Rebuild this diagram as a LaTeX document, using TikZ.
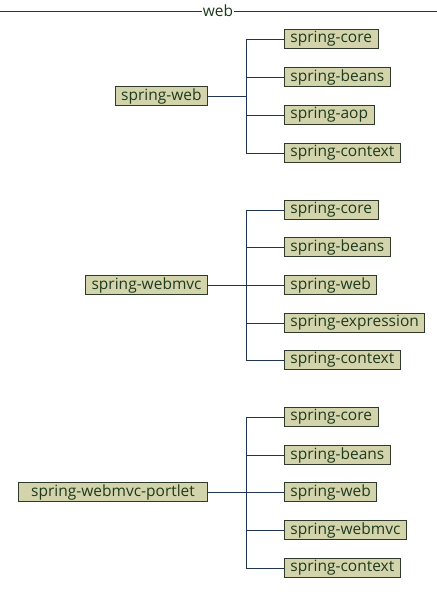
\documentclass[tikz,border=0pt]{standalone}
\usepackage{fontspec}
\setmainfont{Open Sans}
\definecolor{boxfill}{HTML}{D4D4AC}
\definecolor{boxtext}{HTML}{1E3A1E}
\definecolor{boxline}{HTML}{2E3A2A}
\definecolor{conn}{HTML}{1F3354}
\begin{document}
\begin{tikzpicture}[x=1pt,y=-1pt,
  mod/.style={draw=boxline,fill=boxfill,text=boxtext,line width=0.9pt,
    minimum height=19pt,inner ysep=0pt,inner xsep=6pt,font=\fontsize{15.5}{17}\selectfont},
  child/.style={mod,anchor=west},
  parent/.style={mod,anchor=east},
  wire/.style={draw=conn,line width=0.9pt}]
\useasboundingbox[fill=white] (0,0) rectangle (437,598);
% title line
\node[text=boxtext,font=\fontsize{15.5}{17}\selectfont,inner sep=1pt] (web) at (218,11) {web};
\coordinate (tl) at (0,11);
\coordinate (tr) at (437,11);
\draw[wire] (tl) -- (web.west);
\draw[wire] (web.east) -- (tr);

% group 1
\node[parent] (p1) at (208,96) {spring-web};
\node[child] (a1) at (284,39) {spring-core};
\node[child] (a2) at (284,77) {spring-beans};
\node[child] (a3) at (284,115) {spring-aop};
\node[child] (a4) at (284,153) {spring-context};
\coordinate (j1) at (246,96);
\draw[wire] (p1.east) -- (j1);
\foreach \c in {a1,a2,a3,a4} \draw[wire] (j1) |- (\c.west);

% group 2
\node[parent] (p2) at (208,285) {spring-webmvc};
\node[child] (b1) at (284,210) {spring-core};
\node[child] (b2) at (284,247) {spring-beans};
\node[child] (b3) at (284,285) {spring-web};
\node[child] (b4) at (284,323) {spring-expression};
\node[child] (b5) at (284,360) {spring-context};
\coordinate (j2) at (246,285);
\draw[wire] (p2.east) -- (j2);
\foreach \c in {b1,b2,b3,b4,b5} \draw[wire] (j2) |- (\c.west);

% group 3
\node[parent,minimum width=189pt] (p3) at (208,492) {spring-webmvc-portlet};
\node[child] (c1) at (284,417) {spring-core};
\node[child] (c2) at (284,455) {spring-beans};
\node[child] (c3) at (284,492) {spring-web};
\node[child] (c4) at (284,530) {spring-webmvc};
\node[child] (c5) at (284,568) {spring-context};
\coordinate (j3) at (246,492);
\draw[wire] (p3.east) -- (j3);
\foreach \c in {c1,c2,c3,c4,c5} \draw[wire] (j3) |- (\c.west);
\end{tikzpicture}
\end{document}
